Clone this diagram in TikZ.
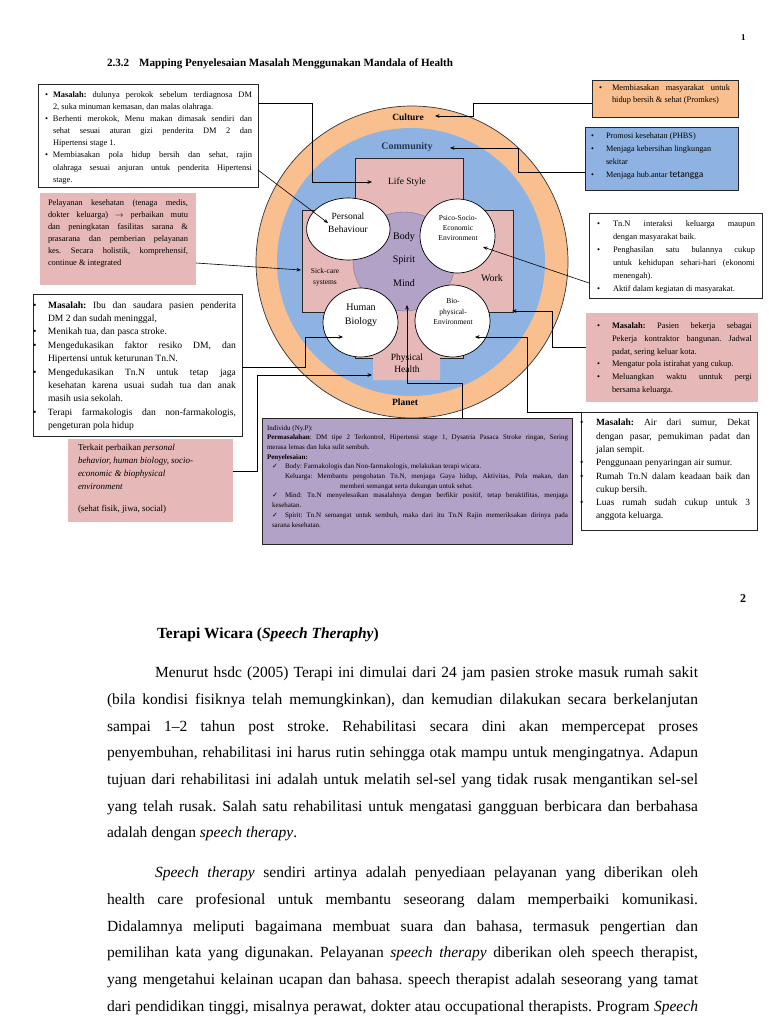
\documentclass[tikz,border=0pt]{standalone}
\usepackage{fontspec}
\setmainfont{Liberation Serif}
\newfontfamily\djv{DejaVu Sans}
\newfontfamily\crl{Carlito}
\usetikzlibrary{arrows.meta}
\definecolor{orng}{RGB}{250,191,143}
\definecolor{blu}{RGB}{142,179,226}
\definecolor{pnk}{RGB}{230,185,184}
\definecolor{prp}{RGB}{179,162,199}
\definecolor{navy}{RGB}{38,52,86}
\newcommand\jline[1]{\hbox to \hsize{#1}}
\newcommand\lline[1]{\hbox{#1}}
\newcommand\bul[1]{\hbox to #1{\textbullet\hfil}}
\newcommand\fs[2]{\fontsize{#1}{#2}\selectfont}
\newcommand\chk{\hbox to 13pt{{\djv\char"2713}\hfil}}
\frenchspacing
\tikzset{
  txt/.style={anchor=base west, inner sep=0, outer sep=0},
  boxw/.style={anchor=north west, inner sep=0, outer sep=0, draw=black!85, line width=0.9pt, fill=white},
  boxp/.style={anchor=north west, inner sep=0, outer sep=0, fill=pnk},
  lbl/.style={inner sep=0, outer sep=0, align=center, font=\fs{9.5}{12.5}},
  conn/.style={draw=black, line width=0.6pt, -{Stealth[length=4.5pt,width=3.6pt]}},
  plain/.style={draw=black, line width=0.6pt}
}
\begin{document}
\begin{tikzpicture}[x=1pt,y=-1pt]
\fill[white] (0,0) rectangle (768,1024);
\useasboundingbox (0,0) rectangle (768,1024);

% ---------- page 1 ----------
\node[txt, font=\bfseries\fs{9}{10}] (pg1) at (741,41) {1};
\node[txt, font=\bfseries\fs{11.1}{13}] (h1) at (107,66.5) {2.3.2\kern10pt Mapping Penyelesaian Masalah Menggunakan Mandala of Health};

% mandala
\filldraw[fill=orng, draw=black!80, line width=0.7pt] (412,262) circle[radius=156pt];
\fill[blu] (411,262) circle[radius=134pt];
\fill[pnk] (355,158) -- (463,158) -- (463,210) -- (513,210) -- (513,312) -- (463,312) -- (463,358) -- (440,358) -- (440,380) -- (373,380) -- (373,358) -- (355,358) -- (355,312) -- (302,312) -- (302,210) -- (355,210) -- cycle;
\draw[black!85, line width=0.7pt] (373,358) -- (355,358) -- (355,312) -- (302,312) -- (302,210) -- (355,210) -- (355,158) -- (463,158) -- (463,210) -- (513,210) -- (513,312) -- (463,312) -- (463,358) -- (440,358);
\filldraw[fill=prp, draw=prp!70!black, line width=0.4pt] (404,261.5) ellipse[x radius=51pt, y radius=49.5pt];
\filldraw[fill=white, draw=black, line width=0.7pt] (348.3,229) ellipse[x radius=41.7pt, y radius=31pt];
\filldraw[fill=white, draw=black, line width=0.7pt] (457.5,236) ellipse[x radius=37.5pt, y radius=37pt];
\filldraw[fill=white, draw=black, line width=0.7pt] (360.5,322.5) ellipse[x radius=37.5pt, y radius=34.5pt];
\filldraw[fill=white, draw=black, line width=0.7pt] (452.5,321) ellipse[x radius=37.5pt, y radius=36pt];

\node[lbl, font=\bfseries\fs{9.5}{12}] (culture) at (408,117) {Culture};
\node[lbl, font=\bfseries\fs{10}{12}, text=navy] (community) at (407,147) {Community};
\node[lbl] (lifestyle) at (407,182) {Life Style};
\node[lbl, font=\fs{9.5}{12.5}] (pb) at (348,223) {Personal\\Behaviour};
\node[lbl, font=\fs{7.5}{10}] (pse) at (458,228) {Psico-Socio-\\Economic\\Environment};
\node[lbl, font=\fs{10}{12}] (bd) at (404,237) {Body};
\node[lbl, font=\fs{10}{12}] (sp) at (404,260) {Spirit};
\node[lbl, font=\fs{10}{12}] (mn) at (404,283) {Mind};
\node[lbl, font=\fs{7.5}{11}] (sick) at (325,277) {Sick-care\\systems};
\node[lbl, font=\fs{10}{12}] (work) at (492,278) {Work};
\node[lbl, font=\fs{10}{14}] (hb) at (361,315) {Human\\Biology};
\node[lbl, font=\fs{7.5}{10.5}] (bpe) at (453,312) {Bio-\\physical-\\Environment};
\node[lbl, font=\fs{9.5}{12}] (ph) at (407,363) {Physical\\Health};
\node[lbl, font=\bfseries\fs{9.5}{12}] (planet) at (405,402) {Planet};

% boxes
\node[boxw, minimum width=220pt, minimum height=103pt] (b1) at (38,84) {};
\node[boxp, minimum width=156pt, minimum height=92pt] (b2) at (40,193) {};
\node[boxw, minimum width=209pt, minimum height=142pt] (b3) at (33,294) {};
\node[boxp, minimum width=165pt, minimum height=83pt] (b4) at (68,439) {};
\node[boxw, fill=orng, minimum width=146pt, minimum height=37pt] (b5) at (592,80) {};
\node[boxw, fill=blu, minimum width=153pt, minimum height=63pt] (b6) at (585,127) {};
\node[boxw, minimum width=173pt, minimum height=85pt] (b7) at (589,213) {};
\node[boxp, minimum width=172pt, minimum height=89pt] (b8) at (586,313) {};
\node[boxw, minimum width=176pt, minimum height=118pt] (b9) at (581,412) {};
\node[boxw, fill=prp, minimum width=310pt, minimum height=126pt] (b10) at (262,418) {};

% box texts
\node[txt, font=\fs{8.4}{12.1}] (t1) at (45,97.5) {\vtop{\hsize=207pt
\jline{\bul{8pt}\textbf{Masalah:} dulunya perokok sebelum terdiagnosa DM}
\lline{\kern8pt 2, suka minuman kemasan, dan malas olahraga.}
\jline{\bul{8pt}Berhenti merokok, Menu makan dimasak sendiri dan}
\jline{\kern8pt sehat sesuai aturan gizi penderita DM 2 dan}
\lline{\kern8pt Hipertensi stage 1.}
\jline{\bul{8pt}Membiasakan pola hidup bersih dan sehat, rajin}
\jline{\kern8pt olahraga sesuai anjuran untuk penderita Hipertensi}
\lline{\kern8pt stage.}}};

\node[txt, font=\fs{8.4}{12}] (t2) at (48,205.5) {\vtop{\hsize=140pt
\jline{Pelayanan kesehatan (tenaga medis,}
\jline{dokter keluarga) $\rightarrow$ perbaikan mutu}
\jline{dan peningkatan fasilitas sarana \&}
\jline{prasarana dan pemberian pelayanan}
\jline{kes. Secara holistik, komprehensif,}
\lline{continue \& integrated}}};

\node[txt, font=\fs{9.6}{13.4}] (t3) at (33,308) {\vtop{\hsize=203pt
\jline{\bul{15pt}\textbf{Masalah:} Ibu dan saudara pasien penderita}
\lline{\kern15pt DM 2 dan sudah meninggal,}
\lline{\bul{15pt}Menikah tua, dan pasca stroke.}
\jline{\bul{15pt}Mengedukasikan faktor resiko DM, dan}
\lline{\kern15pt Hipertensi untuk keturunan Tn.N.}
\jline{\bul{15pt}Mengedukasikan Tn.N untuk tetap jaga}
\jline{\kern15pt kesehatan karena usuai sudah tua dan anak}
\lline{\kern15pt masih usia sekolah.}
\jline{\bul{15pt}Terapi farmakologis dan non-farmakologis,}
\lline{\kern15pt pengeturan pola hidup}}};

\node[txt, font=\fs{9}{13}] (t4) at (78,450.7) {\vtop{\hsize=150pt
\lline{Terkait perbaikan \textit{personal}}
\lline{\textit{behavior, human biology, socio-}}
\lline{\textit{economic \& biophysical}}
\lline{\textit{environment}}
\vskip9pt
\lline{(sehat fisik, jiwa, social)}}};

\node[txt, font=\fs{8.4}{12}] (t5) at (599,90.4) {\vtop{\hsize=131pt
\jline{\bul{13pt}Membiasakan masyarakat untuk}
\lline{\kern13pt hidup bersih \& sehat (Promkes)}}};

\node[txt, font=\fs{8.2}{12.9}] (t6) at (591,138.4) {\vtop{\hsize=140pt
\lline{\bul{15pt}Promosi kesehatan (PHBS)}
\lline{\bul{15pt}Menjaga kebersihan lingkungan}
\lline{\kern15pt sekitar}
\lline{\bul{15pt}Menjaga hub.antar {\crl\fontsize{9.5}{12}\selectfont tetangga}}}};

\node[txt, font=\fs{8.4}{13.1}] (t7) at (597,226) {\vtop{\hsize=158pt
\jline{\bul{16pt}Tn.N interaksi keluarga maupun}
\lline{\kern16pt dengan masyarakat baik.}
\jline{\bul{16pt}Penghasilan satu bulannya cukup}
\jline{\kern16pt untuk kehidupan sehari-hari (ekonomi}
\lline{\kern16pt menengah).}
\lline{\bul{16pt}Aktif dalam kegiatan di masyarakat.}}};

\node[txt, font=\fs{8.4}{12.8}] (t8) at (597,328.5) {\vtop{\hsize=155pt
\jline{\bul{15pt}\textbf{Masalah:} Pasien bekerja sebagai}
\jline{\kern15pt Pekerja kontraktor bangunan. Jadwal}
\lline{\kern15pt padat, sering keluar kota.}
\lline{\bul{15pt}Mengatur pola istirahat yang cukup.}
\jline{\bul{15pt}Meluangkan waktu unntuk pergi}
\lline{\kern15pt bersama keluarga.}}};

\node[txt, font=\fs{9.5}{13.3}] (t9) at (580,425.8) {\vtop{\hsize=170pt
\jline{\bul{16pt}\textbf{Masalah:} Air dari sumur, Dekat}
\jline{\kern16pt dengan pasar, pemukiman padat dan}
\lline{\kern16pt jalan sempit.}
\lline{\bul{16pt}Penggunaan penyaringan air sumur.}
\jline{\bul{16pt}Rumah Tn.N dalam keadaan baik dan}
\lline{\kern16pt cukup bersih.}
\jline{\bul{16pt}Luas rumah sudah cukup untuk 3}
\lline{\kern16pt anggota keluarga.}}};

\node[txt, font=\fs{7}{9.7}] (t10) at (267,430) {\vtop{\hsize=301pt
\lline{Individu (Ny.P):}
\jline{\textbf{Permasalahan}: DM tipe 2 Terkontrol, Hipertensi stage 1, Dysatria Pasaca Stroke ringan, Sering}
\lline{merasa lemas dan luka sulit sembuh.}
\lline{\textbf{Penyelesaian:}}
\lline{\kern5pt\chk Body: Farmakologis dan Non-farmakologis, melakukan terapi wicara.}
\jline{\kern18pt Keluarga: Membantu pengobatan Tn.N, menjaga Gaya hidup, Aktivitas, Pola makan, dan}
\lline{\kern73pt memberi semangat serta dukungan untuk sehat.}
\jline{\kern5pt\chk Mind: Tn.N menyelesaikan masalahnya dengan berfikir positif, tetap beraktifitas, menjaga}
\lline{\kern5pt kesehatan.}
\jline{\kern5pt\chk Spirit: Tn.N semangat untuk sembuh, maka dari itu Tn.N Rajin memeriksakan dirinya pada}
\lline{\kern5pt sarana kesehatan.}}};

% arrow targets
\coordinate (aCul) at (435,116);
\coordinate (aCom) at (450,148);
\coordinate (aLS) at (372,182);
\coordinate (aPB) at (328,223);
\coordinate (aSick) at (301,270);
\coordinate (aHB) at (343,337);
\coordinate (aPH) at (372,375);
\coordinate (aMind) at (407,305);
\coordinate (aPSE) at (483,247);
\coordinate (aWork) at (512,311);
\coordinate (aBPE) at (475,337);

% connectors
\draw[conn] (b5.west |- 0,103) -- (473,103) -- (473,116) -- (aCul);
\draw[conn] (b6.west |- 0,172) -- (518,172) -- (518,148) -- (aCom);
\draw[conn] (b1.east |- 0,103) -- (312,103) -- (312,182) -- (aLS);
\draw[conn] (b1.east |- 0,170) -- (aPB);
\draw[conn] (b2.east |- 0,263) -- (aSick);
\draw[conn] (b3.east |- 0,367) -- (305,367) -- (305,337) -- (aHB);
\draw[conn] (b4.east |- 0,471) -- (257,471) -- (257,375) -- (aPH);
\draw[conn] (b10.north -| 462,0) -- (462,383) -- (407,383) -- (aMind);
\draw[conn] (b7.west |- 0,283) -- (aPSE);
\draw[conn] (b8.west |- 0,347) -- (552,347) -- (552,311) -- (aWork);
\draw[conn] (b9.north west) -- (527,412) -- (527,337) -- (aBPE);

% ---------- page 2 ----------
\node[txt, font=\bfseries\fs{12}{14}] (pg2) at (740,602) {2};
\node[txt, font=\bfseries\fs{15.5}{18}] (h2) at (157,638.4) {Terapi Wicara (\textit{Speech Theraphy})};
\node[txt, font=\fs{15.5}{26.7}] (bodytext) at (107,677.6) {\vtop{\hsize=591pt
\jline{\kern48pt Menurut hsdc (2005) Terapi ini dimulai dari 24 jam pasien stroke masuk rumah sakit}
\jline{(bila kondisi fisiknya telah memungkinkan), dan kemudian dilakukan secara berkelanjutan}
\jline{sampai 1–2 tahun post stroke. Rehabilitasi secara dini akan mempercepat proses}
\jline{penyembuhan, rehabilitasi ini harus rutin sehingga otak mampu untuk mengingatnya. Adapun}
\jline{tujuan dari rehabilitasi ini adalah untuk melatih sel-sel yang tidak rusak mengantikan sel-sel}
\jline{yang telah rusak. Salah satu rehabilitasi untuk mengatasi gangguan berbicara dan berbahasa}
\lline{adalah dengan \textit{speech therapy}.}
\vskip13.1pt
\jline{\kern48pt\textit{Speech therapy} sendiri artinya adalah penyediaan pelayanan yang diberikan oleh}
\jline{health care profesional untuk membantu seseorang dalam memperbaiki komunikasi.}
\jline{Didalamnya meliputi bagaimana membuat suara dan bahasa, termasuk pengertian dan}
\jline{pemilihan kata yang digunakan. Pelayanan \textit{speech therapy} diberikan oleh speech therapist,}
\jline{yang mengetahui kelainan ucapan dan bahasa. speech therapist adalah seseorang yang tamat}
\jline{dari pendidikan tinggi, misalnya perawat, dokter atau occupational therapists. Program \textit{Speech}}}};
\end{tikzpicture}
\end{document}
